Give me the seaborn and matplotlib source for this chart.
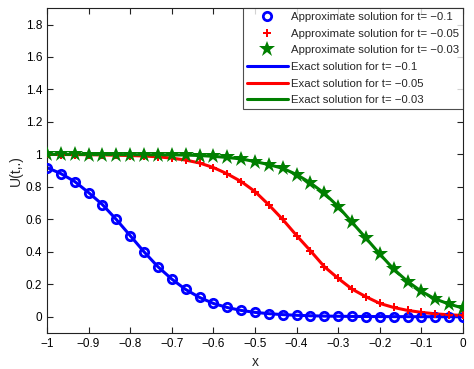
import numpy as np
import pandas as pd
import matplotlib
matplotlib.use("Agg")
import matplotlib.pyplot as plt
from matplotlib.lines import Line2D
import seaborn as sns

# ---------------- Data ----------------
x_vals = [-1.0, -0.9667, -0.9333, -0.9, -0.8667, -0.8333, -0.8, -0.7667, -0.7333, -0.7,
          -0.6667, -0.6333, -0.6, -0.5667, -0.5333, -0.5, -0.4667, -0.4333, -0.4, -0.3667,
          -0.3333, -0.3, -0.2667, -0.2333, -0.2, -0.1667, -0.1333, -0.1, -0.0667, -0.0333, 0.0]

u_t1 = [0.919, 0.882, 0.833, 0.765, 0.691, 0.599, 0.500, 0.400, 0.308, 0.232,
        0.168, 0.119, 0.082, 0.057, 0.039, 0.027, 0.019, 0.013, 0.009, 0.006,
        0.004, 0.003, 0.002, 0.0015, 0.001, 0.0007, 0.0005, 0.0003, 0.0002, 0.0001, 0.0001]

u_t2 = [1.0, 0.999, 0.999, 0.998, 0.997, 0.995, 0.993, 0.990, 0.985, 0.977,
        0.965, 0.947, 0.919, 0.880, 0.833, 0.771, 0.689, 0.599, 0.500, 0.406,
        0.308, 0.236, 0.170, 0.123, 0.082, 0.057, 0.039, 0.027, 0.018, 0.012, 0.008]

u_t3 = [1.0, 1.0, 1.0, 0.999, 0.999, 0.999, 0.998, 0.998, 0.997, 0.997,
        0.996, 0.993, 0.988, 0.981, 0.972, 0.956, 0.937, 0.914, 0.876, 0.824,
        0.760, 0.678, 0.581, 0.484, 0.386, 0.293, 0.217, 0.156, 0.109, 0.078, 0.053]

t_labels = ["\u22120.1", "\u22120.05", "\u22120.03"]
x_ticks = [-1, -0.9, -0.8, -0.7, -0.6, -0.5, -0.4, -0.3, -0.2, -0.1, 0]
x_ticklabels = ["\u22121", "\u22120.9", "\u22120.8", "\u22120.7", "\u22120.6", "\u22120.5",
                "\u22120.4", "\u22120.3", "\u22120.2", "\u22120.1", "0"]
y_ticks = [0, 0.2, 0.4, 0.6, 0.8, 1.0, 1.2, 1.4, 1.6, 1.8]
y_ticklabels = ["0", "0.2", "0.4", "0.6", "0.8", "1", "1.2", "1.4", "1.6", "1.8"]

df = pd.DataFrame({"x": x_vals, "t1": u_t1, "t2": u_t2, "t3": u_t3})

# ---------------- Style ----------------
sns.set_style("ticks")
plt.rcParams["font.family"] = ["Liberation Sans", "DejaVu Sans"]
plt.rcParams["xtick.direction"] = "in"
plt.rcParams["ytick.direction"] = "in"

colors = ["#0000ff", "#ff0000", "#007f00"]
markers = [dict(marker="o", markersize=6, markerfacecolor="none", markeredgewidth=2),
           dict(marker="P", markersize=6, markeredgewidth=0),
           dict(marker="*", markersize=12, markeredgewidth=0)]

fig = plt.figure(figsize=(4.74, 3.69), dpi=100)
ax = fig.add_axes([0.099, 0.0976, 0.878, 0.88])

cols = ["t1", "t2", "t3"]
for col, c in zip(cols, colors):
    sns.lineplot(data=df, x="x", y=col, color=c, lw=2.2, ax=ax, zorder=2)
for col, c, m in zip(cols, colors, markers):
    sns.lineplot(data=df, x="x", y=col, color=c, linestyle="none", markeredgecolor=c,
                 ax=ax, zorder=3, **m)

ax.set_xlim(-1, 0)
ax.set_ylim(-0.1, 1.9)
ax.set_xticks(x_ticks)
ax.set_xticklabels(x_ticklabels)
ax.set_yticks(y_ticks)
ax.set_yticklabels(y_ticklabels)
ax.tick_params(labelsize=8.5, top=True, right=True, length=4, width=0.8, colors="#222222",
               labelcolor="black")
for s in ax.spines.values():
    s.set_linewidth(0.8)
    s.set_color("#222222")
ax.set_xlabel("x", fontsize=10)
ax.set_ylabel("U(t,.)", fontsize=10, labelpad=2)

handles = []
labels = []
for c, m, t in zip(colors, markers, t_labels):
    handles.append(Line2D([], [], color=c, markeredgecolor=c, linestyle="none", **m))
    labels.append(f"Approximate solution for t= {t}")
for c, t in zip(colors, t_labels):
    handles.append(Line2D([], [], color=c, lw=2.2))
    labels.append(f"Exact solution for t= {t}")
leg = ax.legend(handles, labels, loc="upper right", fontsize=8.2, frameon=True,
                fancybox=False, edgecolor="#222222", borderaxespad=0,
                handlelength=3.6, labelspacing=0.58, borderpad=0.35, handletextpad=0.3)
leg.get_frame().set_linewidth(0.8)

fig.savefig("out.png", dpi=100)
